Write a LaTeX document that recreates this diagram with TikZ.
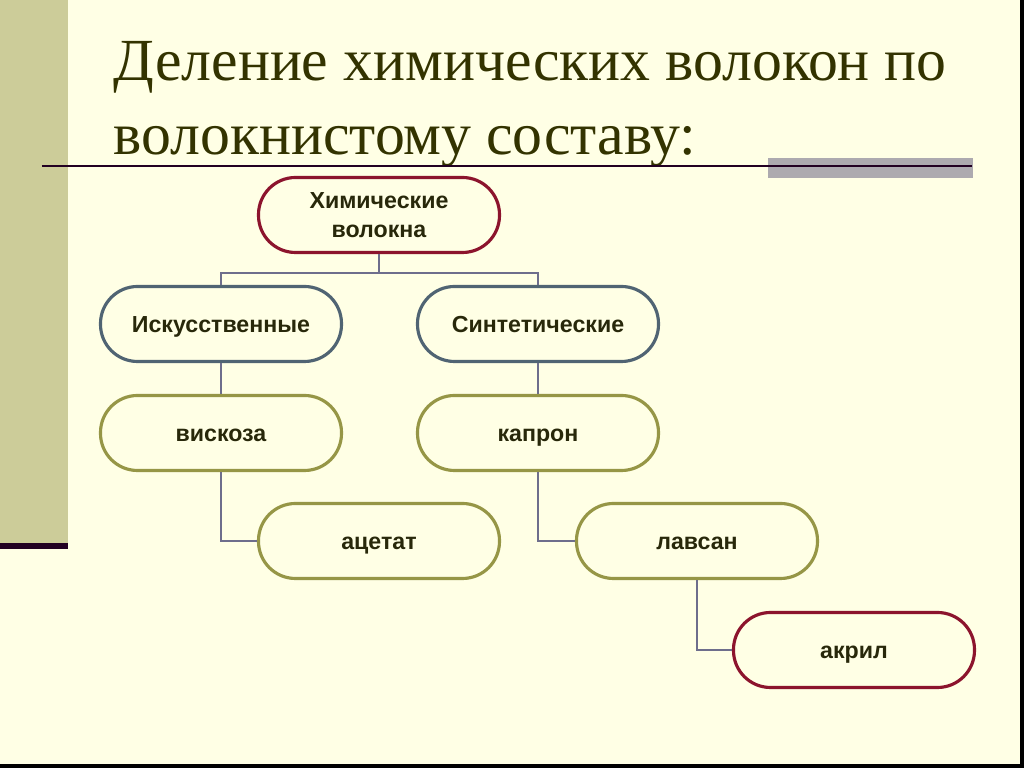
\documentclass[tikz,border=0pt]{standalone}
\usepackage{fontspec}
\setmainfont{Liberation Serif}
\newfontfamily\boxfont{Liberation Sans}
\usetikzlibrary{positioning}
\definecolor{bgcream}{RGB}{255,255,229}
\definecolor{bandolive}{RGB}{204,204,153}
\definecolor{titleolive}{RGB}{51,51,0}
\definecolor{rulepurple}{RGB}{34,0,34}
\definecolor{bargray}{RGB}{173,170,175}
\definecolor{redline}{RGB}{140,20,45}
\definecolor{blueline}{RGB}{80,100,115}
\definecolor{oliveline}{RGB}{150,150,70}
\definecolor{linkgray}{RGB}{110,110,140}
\definecolor{textdark}{RGB}{40,40,10}
\begin{document}
\begin{tikzpicture}[
  pill/.style={draw, line width=0.9pt, fill=bgcream, rounded corners=0.37cm,
    minimum width=2.41cm, minimum height=0.75cm, inner sep=0pt, align=center,
    text height=5.1pt, text depth=0pt, text=textdark,
    font=\boxfont\bfseries\fontsize{6.6}{8.25}\selectfont},
  redpill/.style={pill, draw=redline},
  bluepill/.style={pill, draw=blueline},
  olivepill/.style={pill, draw=oliveline},
  titleline/.style={anchor=base west, inner sep=0pt, text=titleolive,
    font=\fontsize{17}{21}\selectfont},
  link/.style={draw=linkgray, line width=0.6pt}
]
% 背景
\useasboundingbox (0,0) rectangle (10.24,7.68);
\fill[bgcream] (0,0) rectangle (10.24,7.68);
\fill[bandolive] (0,2.23) rectangle (0.68,7.68);
\fill[rulepurple] (0,2.19) rectangle (0.68,2.25);
\fill[black] (10.20,0) rectangle (10.24,7.68);
\fill[black] (0,0) rectangle (10.24,0.04);
% 标题
\node[titleline] (title1) at (1.13,6.87) {Деление химических волокон по};
\node[titleline] (title2) at (1.13,6.13) {волокнистому составу:};
\fill[bargray] (7.68,5.90) rectangle (9.73,6.10);
\draw[rulepurple, line width=0.6pt] (0.42,6.02) -- (9.72,6.02);
% 方框
\node[redpill, text height=13pt] (chem) at (3.79,5.53) {Химические\\волокна};
\node[bluepill] (artif) at (2.21,4.44) {Искусственные};
\node[bluepill] (synth) at (5.38,4.44) {Синтетические};
\node[olivepill] (visc) at (2.21,3.35) {вискоза};
\node[olivepill] (kapron) at (5.38,3.35) {капрон};
\node[olivepill] (acetat) at (3.79,2.27) {ацетат};
\node[olivepill] (lavsan) at (6.97,2.27) {лавсан};
\node[redpill] (akril) at (8.54,1.18) {акрил};
% 连线
\draw[link] (chem.south) -- ++(0,-0.19) -| (artif.north);
\draw[link] (chem.south) -- ++(0,-0.19) -| (synth.north);
\draw[link] (artif) -- (visc);
\draw[link] (synth) -- (kapron);
\draw[link] (visc.south) |- (acetat.west);
\draw[link] (kapron.south) |- (lavsan.west);
\draw[link] (lavsan.south) |- (akril.west);
\end{tikzpicture}
\end{document}
